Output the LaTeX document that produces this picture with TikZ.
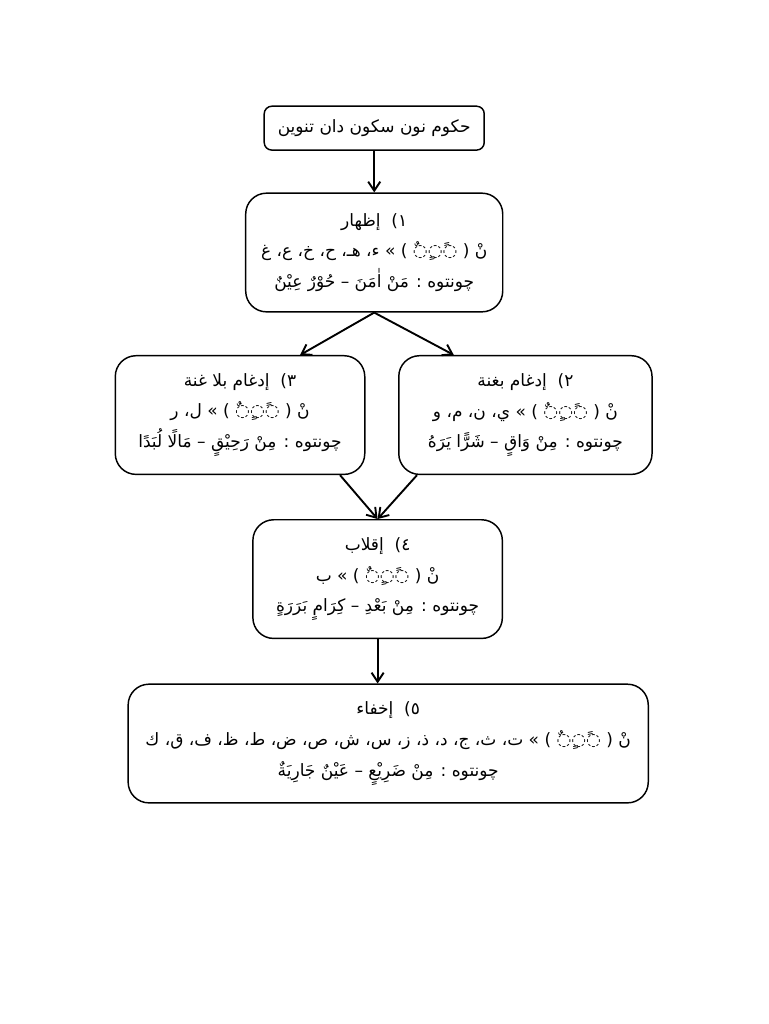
\documentclass[tikz,border=0pt]{standalone}
\usepackage{fontspec}
\newfontfamily\arabicfont[Script=Arabic]{DejaVu Sans}
\TeXXeTstate=1
\usepackage{tikz}
\usetikzlibrary{arrows,arrows.meta}
\usetikzlibrary{positioning}
\newcommand{\arl}[1]{\beginR #1\endR}
\newcommand{\num}[1]{\hbox{#1}\hbox{)}\ \ }
\newcommand{\harakat}{\hbox{(} ◌ً◌ٍ◌ٌ \hbox{)} \hbox{»}}

\begin{document}
\begin{tikzpicture}
[ hd/.style={rectangle, rounded corners=0.2cm, draw=black, fill=white, align=center, inner sep=0pt, minimum height=1.16cm, minimum width=5.82cm, line width=1.1pt, font=\arabicfont\fontsize{12.8}{23}\selectfont},
 bx/.style={rectangle, rounded corners=0.55cm, draw=black, fill=white, align=center, inner sep=0pt, minimum height=3.14cm, minimum width=6.6cm, line width=1.1pt, font=\arabicfont\fontsize{12.8}{23}\selectfont},
 bx1/.style={bx, minimum width=13.76cm},
 >={Straight Barb[length=2.4mm,width=3.2mm]}]
\useasboundingbox (0,0) rectangle (20.32,-27.09);
\node[hd] (A) at (9.9,-3.39) {\arl{حكوم نون سكون دان تنوين}};
\node[bx, minimum width=6.8cm] (B) [below of=A, node distance=3.29cm] {\arl{\num{١}إظهار}\\ \arl{نْ \harakat{} ء، هـ، ح، خ، ع، غ}\\ \arl{چونتوه : مَنْ اٰمَنَ – حُوْرٌ عِيْنٌ}};
\node[bx] (C) [below of=B, node distance=4.3cm, xshift=-3.55cm] {\arl{\num{٣}إدغام بلا غنة}\\ \arl{نْ \harakat{} ل، ر}\\ \arl{چونتوه : مِنْ رَحِيْقٍ – مَالًا لُبَدًا}};
\node[bx, minimum width=6.7cm] (D) [below of=B, node distance=4.3cm, xshift=4cm] {\arl{\num{٢}إدغام بغنة}\\ \arl{نْ \harakat{} ي، ن، م، و}\\ \arl{چونتوه : مِنْ وَاقٍ – شَرًّا يَرَهُ}};
\node[bx] (E) [below of=B, node distance=8.64cm, xshift=0.09cm] {\arl{\num{٤}إقلاب}\\ \arl{نْ \harakat{} ب}\\ \arl{چونتوه : مِنْ بَعْدِ – كِرَامٍ بَرَرَةٍ}};
\node[bx1] (F) [below of=E, node distance=4.35cm, xshift=0.28cm] {\arl{\num{٥}إخفاء}\\ \arl{نْ \harakat{} ت، ث، ج، د، ذ، ز، س، ش، ص، ض، ط، ظ، ف، ق، ك}\\ \arl{چونتوه : مِنْ ضَرِيْعٍ – عَيْنٌ جَارِيَةٌ}};
\draw [->, line width=0.5mm](A) -- (B);
\draw [->, line width=0.5mm](B.south) -- (C.45);
\draw [->, line width=0.5mm](B.south) -- (D.140);
\draw [->, line width=0.5mm](C.-31) -- (E.north);
\draw [->, line width=0.5mm](D.209) -- (E.north);
\draw [->, line width=0.5mm](E.south) -- (E.south |- F.north);
\end{tikzpicture}
\end{document}
